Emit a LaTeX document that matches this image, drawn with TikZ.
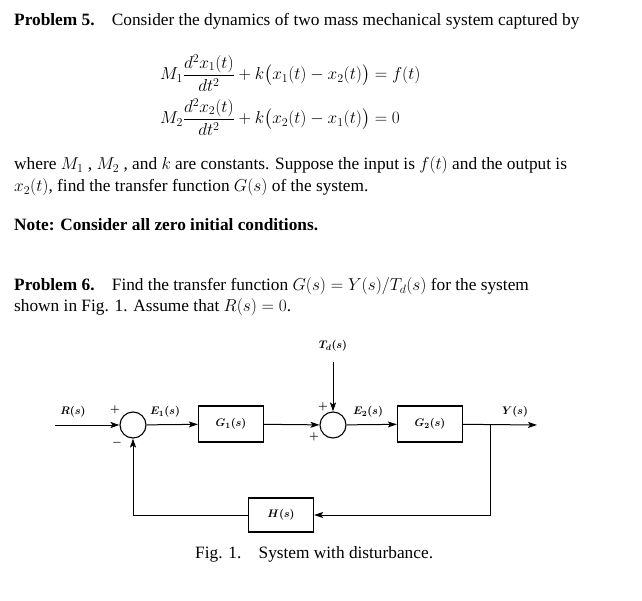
\documentclass[tikz,border=0pt]{standalone}
\usepackage{amsmath}
\usepackage{fontspec}
\setmainfont{Liberation Serif}
\usetikzlibrary{positioning, arrows.meta}
\newcommand{\probtxt}{\fontsize{17.3}{20}\selectfont}
\newcommand{\eqtxt}{\fontsize{18.5}{22}\selectfont}
\newcommand{\diagtxt}{\fontsize{11}{13}\selectfont\bfseries\itshape\boldmath}

\begin{document}
\begin{tikzpicture}[x=1pt, y=-1pt, >={Stealth[length=9pt, width=6pt, inset=2pt]},
		block/.style={draw, line width=1.3pt, minimum width=65pt, minimum height=36pt, font=\diagtxt},
		junct/.style={draw, line width=1.1pt, circle, minimum size=26pt, inner sep=0pt},
		txt/.style={anchor=base west, inner sep=0pt, font=\probtxt},
		lbl/.style={font=\diagtxt, inner sep=1pt},
		sig/.style={->, line width=1pt}]
		\useasboundingbox (0,0) rectangle (642,601);
		% problem statements
		\node[txt] (p5) at (14,26) {\textbf{Problem 5.}\quad Consider the dynamics of two mass mechanical system captured by};
		\node[txt, font=\eqtxt] (eq1) at (160,80) {$M_1\dfrac{d^2x_1(t)}{dt^2}+k\bigl(x_1(t)-x_2(t)\bigr)=f(t)$};
		\node[txt, font=\eqtxt] (eq2) at (160,124) {$M_2\dfrac{d^2x_2(t)}{dt^2}+k\bigl(x_2(t)-x_1(t)\bigr)=0$};
		\node[txt] (w1) at (14,170) {where $M_1$ , $M_2$ , and $k$ are constants. Suppose the input is $f(t)$ and the output is};
		\node[txt] (w2) at (14,192) {$x_2(t)$, find the transfer function $G(s)$ of the system.};
		\node[txt] (note) at (14,231) {\textbf{Note: Consider all zero initial conditions.}};
		\node[txt] (p6) at (14,291) {\textbf{Problem 6.}\quad Find the transfer function $G(s)=Y(s)/T_d(s)$ for the system};
		\node[txt] (p6b) at (14,312) {shown in Fig. 1. Assume that $R(s)=0$.};
		\node[txt] (cap) at (195,558) {Fig. 1.\quad System with disturbance.};
		% block diagram
		\coordinate (rin) at (55,425);
		\node[junct] (s1) at (133,425) {};
		\node[block] (g1) at (231,424) {$G_1(s)$};
		\node[junct] (s2) at (333,425) {};
		\node[block] (g2) at (430,424) {$G_2(s)$};
		\coordinate (br) at (490,425);
		\coordinate (yout) at (537,425);
		\node[block, minimum height=34pt] (h) at (281,515) {$H(s)$};
		\coordinate (td) at (333,362);
		\node[lbl] (tdl) at (333,346) {$T_d(s)$};
		\draw[sig] (rin) -- (s1);
		\draw[sig] (s1) -- (g1);
		\draw[sig] (g1) -- (s2);
		\draw[sig] (s2) -- (g2);
		\draw[sig] (g2) -- (yout);
		\draw[sig] (td) -- (s2);
		\draw[sig] (br) |- (h);
		\draw[sig] (h) -| (s1);
		\node[lbl] at (73,412) {$R(s)$};
		\node[lbl] at (165,412) {$E_1(s)$};
		\node[lbl] at (368,412) {$E_2(s)$};
		\node[lbl] at (515,412) {$Y(s)$};
		\node[lbl] at (115,410) {$+$};
		\node[lbl] at (117,443) {$-$};
		\node[lbl] at (323,407) {$+$};
		\node[lbl] at (314,437) {$+$};
	\end{tikzpicture}
\end{document}
